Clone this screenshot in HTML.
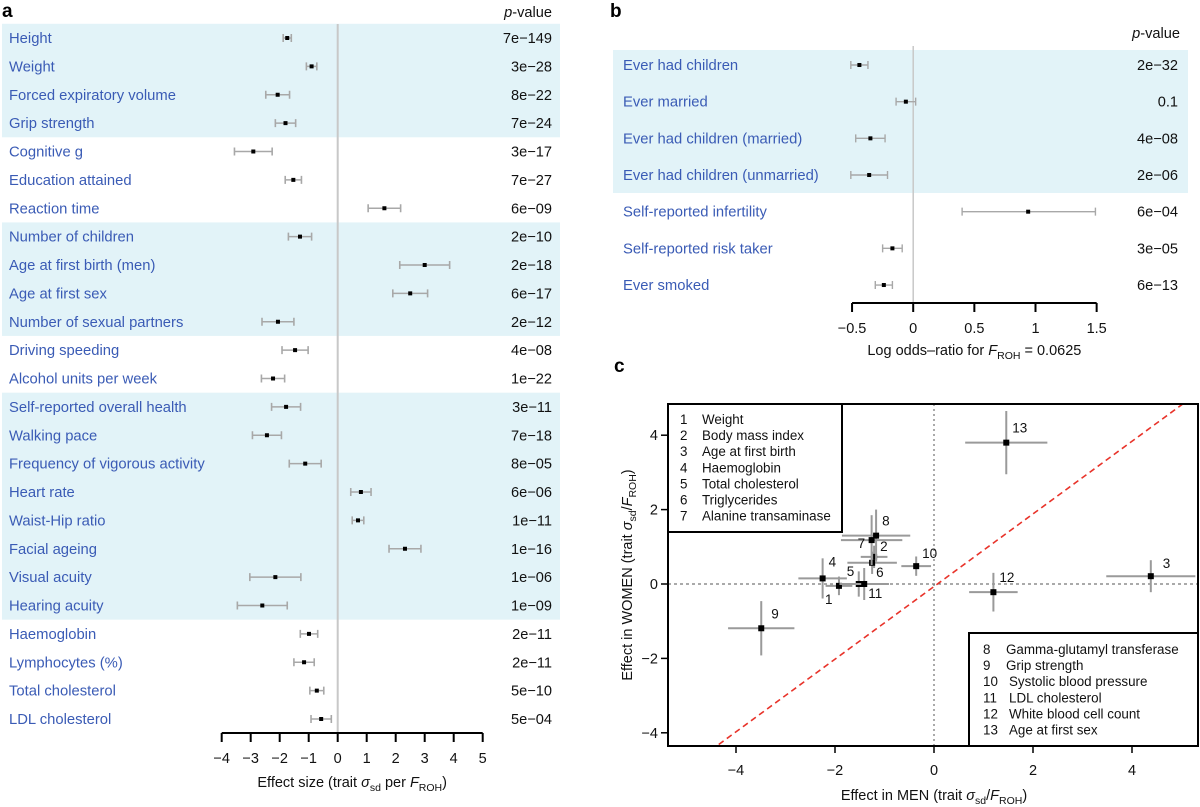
<!DOCTYPE html>
<html><head><meta charset="utf-8">
<style>
html,body{margin:0;padding:0;background:#fff;}
svg{display:block;font-family:"Liberation Sans",Arial,sans-serif;}
.lab{fill:#3a5bb5;font-size:14.8px;}
.pv{fill:#111;font-size:14.6px;text-anchor:end;}
.tk{fill:#111;font-size:14.5px;text-anchor:middle;}
</style></head>
<body>
<svg id="fig" width="1200" height="807" viewBox="0 0 1200 807">
<g id="pa"></g>
<g id="pb"></g>
<g id="pc"></g>
</svg>
<script>
// ---- Panel a data ----
const aTraits = ["Height","Weight","Forced expiratory volume","Grip strength","Cognitive g","Education attained","Reaction time","Number of children","Age at first birth (men)","Age at first sex","Number of sexual partners","Driving speeding","Alcohol units per week","Self-reported overall health","Walking pace","Frequency of vigorous activity","Heart rate","Waist-Hip ratio","Facial ageing","Visual acuity","Hearing acuity","Haemoglobin","Lymphocytes (%)","Total cholesterol","LDL cholesterol"];
const aEst = [-1.74,-0.9,-2.07,-1.8,-2.91,-1.53,1.61,-1.3,3.0,2.5,-2.06,-1.47,-2.23,-1.78,-2.44,-1.12,0.8,0.7,2.32,-2.15,-2.6,-0.99,-1.16,-0.72,-0.57];
const aErr = [0.14,0.18,0.41,0.35,0.65,0.28,0.56,0.4,0.86,0.6,0.55,0.45,0.4,0.5,0.5,0.55,0.35,0.2,0.55,0.88,0.86,0.3,0.35,0.24,0.35];
const aP = ["7e\u2212149","3e\u221228","8e\u221222","7e\u221224","3e\u221217","7e\u221227","6e\u221209","2e\u221210","2e\u221218","6e\u221217","2e\u221212","4e\u221208","1e\u221222","3e\u221211","7e\u221218","8e\u221205","6e\u221206","1e\u221211","1e\u221216","1e\u221206","1e\u221209","2e\u221211","2e\u221211","5e\u221210","5e\u221204"];
const aBands = [[0,3],[7,10],[13,20]];
const aTicks = [-4,-3,-2,-1,0,1,2,3,4,5];
// ---- Panel b data ----
const bTraits = ["Ever had children","Ever married","Ever had children (married)","Ever had children (unmarried)","Self-reported infertility","Self-reported risk taker","Ever smoked"];
const bEst = [-0.44,-0.06,-0.35,-0.36,0.94,-0.17,-0.24];
const bLo = [-0.51,-0.14,-0.47,-0.51,0.4,-0.25,-0.31];
const bHi = [-0.37,0.02,-0.23,-0.21,1.49,-0.09,-0.17];
const bP = ["2e\u221232","0.1","4e\u221208","2e\u221206","6e\u221204","3e\u221205","6e\u221213"];
const bTicks = [-0.5,0,0.5,1,1.5];
// ---- Panel c data ----
const cIds = [1,2,3,4,5,6,7,8,9,10,11,12,13];
const cMen = [-1.92,-1.21,4.38,-2.25,-1.52,-1.25,-1.26,-1.17,-3.49,-0.36,-1.41,1.2,1.46];
const cWomen = [-0.05,0.73,0.21,0.15,0.0,0.57,1.18,1.3,-1.19,0.48,0.0,-0.22,3.8];
const cMenErr = [0.27,0.27,0.9,0.49,0.35,0.5,0.62,0.69,0.67,0.3,0.5,0.49,0.83];
const cWomenErr = [0.25,0.3,0.43,0.54,0.34,0.3,0.67,0.7,0.73,0.26,0.43,0.52,0.85];
const cLeg1 = ["Weight","Body mass index","Age at first birth","Haemoglobin","Total cholesterol","Triglycerides","Alanine transaminase"];
const cLeg2 = ["Gamma-glutamyl transferase","Grip strength","Systolic blood pressure","LDL cholesterol","White blood cell count","Age at first sex"];
const cXTicks = [-4,-2,0,2,4];
const cYTicks = [-4,-2,0,2,4];

const NS="http://www.w3.org/2000/svg";
function mk(parent,tag,attrs,text){const e=document.createElementNS(NS,tag);for(const k in attrs)e.setAttribute(k,attrs[k]);if(text!==undefined)e.textContent=text;parent.appendChild(e);return e;}

// ===== Panel a =====
(function(){
const g=document.getElementById('pa');
const x=v=>337.7+v*29;
const y=i=>38+i*28.375;
let t=mk(g,'text',{x:2,y:17,'font-size':'19','font-weight':'bold',fill:'#000'},'a');


aBands.forEach(b=>{
 const r=mk(g,'rect',{x:2,y:y(b[0])-14.2,width:558,height:(b[1]-b[0]+1)*28.375,fill:'#e2f3f8'});
 
 
});
const hdr=mk(g,'text',{x:552,y:17,class:'pv'});


mk(hdr,'tspan',{'font-style':'italic'},'p');mk(hdr,'tspan',{},'-value');
const zl=mk(g,'line',{x1:x(0),x2:x(0),y1:24,y2:733,stroke:'#c8c8c8','stroke-width':2});


aTraits.forEach((n,i)=>{
 const yy=y(i);
 const l=mk(g,'text',{x:9,y:yy+5,class:'lab'},n);
 
 
 const p=mk(g,'text',{x:552,y:yy+5,class:'pv'},aP[i]);
 
 
 const lo=x(aEst[i]-aErr[i]),hi=x(aEst[i]+aErr[i]);
 const eb=mk(g,'path',{d:`M${lo},${yy}H${hi}M${lo},${yy-4}V${yy+4}M${hi},${yy-4}V${yy+4}`,stroke:'#a8a8a8','stroke-width':1.6,fill:'none'});
 
 
 const pt=mk(g,'rect',{x:x(aEst[i])-2,y:yy-2,width:4,height:4,fill:'#000'});
 
 
});
const ax=mk(g,'line',{x1:x(-4),x2:x(5),y1:733,y2:733,stroke:'#000','stroke-width':2});


aTicks.forEach(v=>{
 mk(g,'line',{x1:x(v),x2:x(v),y1:733,y2:742,stroke:'#000','stroke-width':2});
 const tl=mk(g,'text',{x:x(v),y:763,class:'tk'},v<0?'\u2212'+(-v):String(v));
 
 
});
const tt=mk(g,'text',{x:x(0.5),y:787,class:'tk'});


mk(tt,'tspan',{},'Effect size (trait ');mk(tt,'tspan',{'font-style':'italic'},'\u03c3');
mk(tt,'tspan',{dy:4,'font-size':'10.5'},'sd');mk(tt,'tspan',{dy:-4},' per ');
mk(tt,'tspan',{'font-style':'italic'},'F');mk(tt,'tspan',{dy:4,'font-size':'10.5'},'ROH');mk(tt,'tspan',{dy:-4},')');
})();

// ===== Panel b =====
(function(){
const g=document.getElementById('pb');
const x=v=>913.2+v*122.3;
const y=i=>65+i*36.67;
let t=mk(g,'text',{x:610,y:17,'font-size':'19','font-weight':'bold',fill:'#000'},'b');


const band=mk(g,'rect',{x:613,y:50,width:575,height:143,fill:'#e2f3f8'});


const hdr=mk(g,'text',{x:1180,y:38,class:'pv'});


mk(hdr,'tspan',{'font-style':'italic'},'p');mk(hdr,'tspan',{},'-value');
const zl=mk(g,'line',{x1:x(0),x2:x(0),y1:46,y2:302,stroke:'#c8c8c8','stroke-width':1.5});


bTraits.forEach((n,i)=>{
 const yy=y(i);
 const l=mk(g,'text',{x:623,y:yy+5,class:'lab'},n);
 
 
 const p=mk(g,'text',{x:1178,y:yy+5,class:'pv'},bP[i]);
 
 
 const lo=x(bLo[i]),hi=x(bHi[i]);
 const eb=mk(g,'path',{d:`M${lo},${yy}H${hi}M${lo},${yy-4}V${yy+4}M${hi},${yy-4}V${yy+4}`,stroke:'#a8a8a8','stroke-width':1.4,fill:'none'});
 
 
 const pt=mk(g,'rect',{x:x(bEst[i])-2,y:yy-2,width:4,height:4,fill:'#000'});
 
 
});
const ax=mk(g,'line',{x1:x(-0.5),x2:x(1.5),y1:303,y2:303,stroke:'#000','stroke-width':2});


bTicks.forEach(v=>{
 mk(g,'line',{x1:x(v),x2:x(v),y1:303,y2:312,stroke:'#000','stroke-width':2});
 const tl=mk(g,'text',{x:x(v),y:333,class:'tk'},v<0?'\u2212'+(-v):String(v));
 
 
});
const tt=mk(g,'text',{x:x(0.5),y:355,class:'tk'});


mk(tt,'tspan',{},'Log odds\u2013ratio for ');mk(tt,'tspan',{'font-style':'italic'},'F');
mk(tt,'tspan',{dy:4,'font-size':'10.5'},'ROH');mk(tt,'tspan',{dy:-4},' = 0.0625');
})();

// ===== Panel c =====
(function(){
const g=document.getElementById('pc');
const L=668,R=1198,T=404,B=746;
const x=v=>934+v*49.5;
const y=v=>584-v*37.2;
let t=mk(g,'text',{x:614,y:372,'font-size':'19','font-weight':'bold',fill:'#000'},'c');


const cp=mk(g,'clipPath',{id:'cclip'});mk(cp,'rect',{x:L,y:T,width:R-L,height:B-T});
const inner=mk(g,'g',{'clip-path':'url(#cclip)'});
const hz=mk(inner,'line',{x1:L,x2:R,y1:y(0),y2:y(0),stroke:'#555','stroke-dasharray':'3,3','stroke-width':1});


const vz=mk(inner,'line',{x1:x(0),x2:x(0),y1:T,y2:B,stroke:'#555','stroke-dasharray':'2,3','stroke-width':1});


const id=mk(inner,'line',{x1:x(-5),y1:y(-0.07-4.88),x2:x(6),y2:y(-0.07+5.86),stroke:'#e8332a','stroke-dasharray':'6,4','stroke-width':1.6});


const labOff={1:[-14,18],2:[6,-6],3:[12,-8],4:[6,-12],5:[-12,-8],6:[4,14],7:[-14,8],8:[6,-10],9:[10,-10],10:[6,-8],11:[4,14],12:[6,-10],13:[6,-10]};
cIds.forEach((n,i)=>{
 const cx=x(cMen[i]),cy=y(cWomen[i]);
 const hb=mk(inner,'line',{x1:x(cMen[i]-cMenErr[i]),x2:x(cMen[i]+cMenErr[i]),y1:cy,y2:cy,stroke:'#9a9a9a','stroke-width':2});
 
 
 const vb=mk(inner,'line',{x1:cx,x2:cx,y1:y(cWomen[i]-cWomenErr[i]),y2:y(cWomen[i]+cWomenErr[i]),stroke:'#9a9a9a','stroke-width':2});
 
 
 const pt=mk(inner,'rect',{x:cx-3,y:cy-3,width:6,height:6,fill:'#000'});
 
 
 const o=labOff[n];
 const tl=mk(inner,'text',{x:cx+o[0],y:cy+o[1],'font-size':'13.5',fill:'#111'},String(n));
 
 
});
// legends
const l1=mk(g,'rect',{x:L,y:T,width:174,height:128,fill:'#fff',stroke:'#000','stroke-width':2});


cLeg1.forEach((s,i)=>{
 const yy=T+20+i*16.1;
 const a=mk(g,'text',{x:680,y:yy,'font-size':'13.4',fill:'#111'},String(i+1));
 
 
 const b=mk(g,'text',{x:702,y:yy,'font-size':'13.4',fill:'#111'},s);
 
 
});
const l2=mk(g,'rect',{x:969,y:633,width:229,height:113,fill:'#fff',stroke:'#000','stroke-width':2});


cLeg2.forEach((s,i)=>{
 const yy=654+i*16.1;
 const a=mk(g,'text',{x:983,y:yy,'font-size':'13.4',fill:'#111'},String(i+8));
 
 
 const b=mk(g,'text',{x:i<2?1006:1009,y:yy,'font-size':'13.4',fill:'#111'},s);
 
 
});
const frame=mk(g,'rect',{x:L,y:T,width:R-L,height:B-T,fill:'none',stroke:'#000','stroke-width':2});


cXTicks.forEach(v=>{
 mk(g,'line',{x1:x(v),x2:x(v),y1:B,y2:B+7,stroke:'#000','stroke-width':1.5});
 const tl=mk(g,'text',{x:x(v),y:775,class:'tk'},v<0?'\u2212'+(-v):String(v));
 
 
});
cYTicks.forEach(v=>{
 mk(g,'line',{x1:L-7,x2:L,y1:y(v),y2:y(v),stroke:'#000','stroke-width':1.5});
 const tl=mk(g,'text',{x:L-10,y:y(v)+5,'font-size':'14.5','text-anchor':'end',fill:'#111'},v<0?'\u2212'+(-v):String(v));
 
 
});
const xt=mk(g,'text',{x:x(0),y:800,class:'tk'});


mk(xt,'tspan',{},'Effect in MEN (trait ');mk(xt,'tspan',{'font-style':'italic'},'\u03c3');
mk(xt,'tspan',{dy:4,'font-size':'10.5'},'sd');mk(xt,'tspan',{dy:-4},'/');
mk(xt,'tspan',{'font-style':'italic'},'F');mk(xt,'tspan',{dy:4,'font-size':'10.5'},'ROH');mk(xt,'tspan',{dy:-4},')');
const yt=mk(g,'text',{x:0,y:0,class:'tk',transform:`translate(632,${(T+B)/2}) rotate(-90)`});


mk(yt,'tspan',{},'Effect in WOMEN (trait ');mk(yt,'tspan',{'font-style':'italic'},'\u03c3');
mk(yt,'tspan',{dy:4,'font-size':'10.5'},'sd');mk(yt,'tspan',{dy:-4},'/');
mk(yt,'tspan',{'font-style':'italic'},'F');mk(yt,'tspan',{dy:4,'font-size':'10.5'},'ROH');mk(yt,'tspan',{dy:-4},')');
})();
</script>
</body></html>
